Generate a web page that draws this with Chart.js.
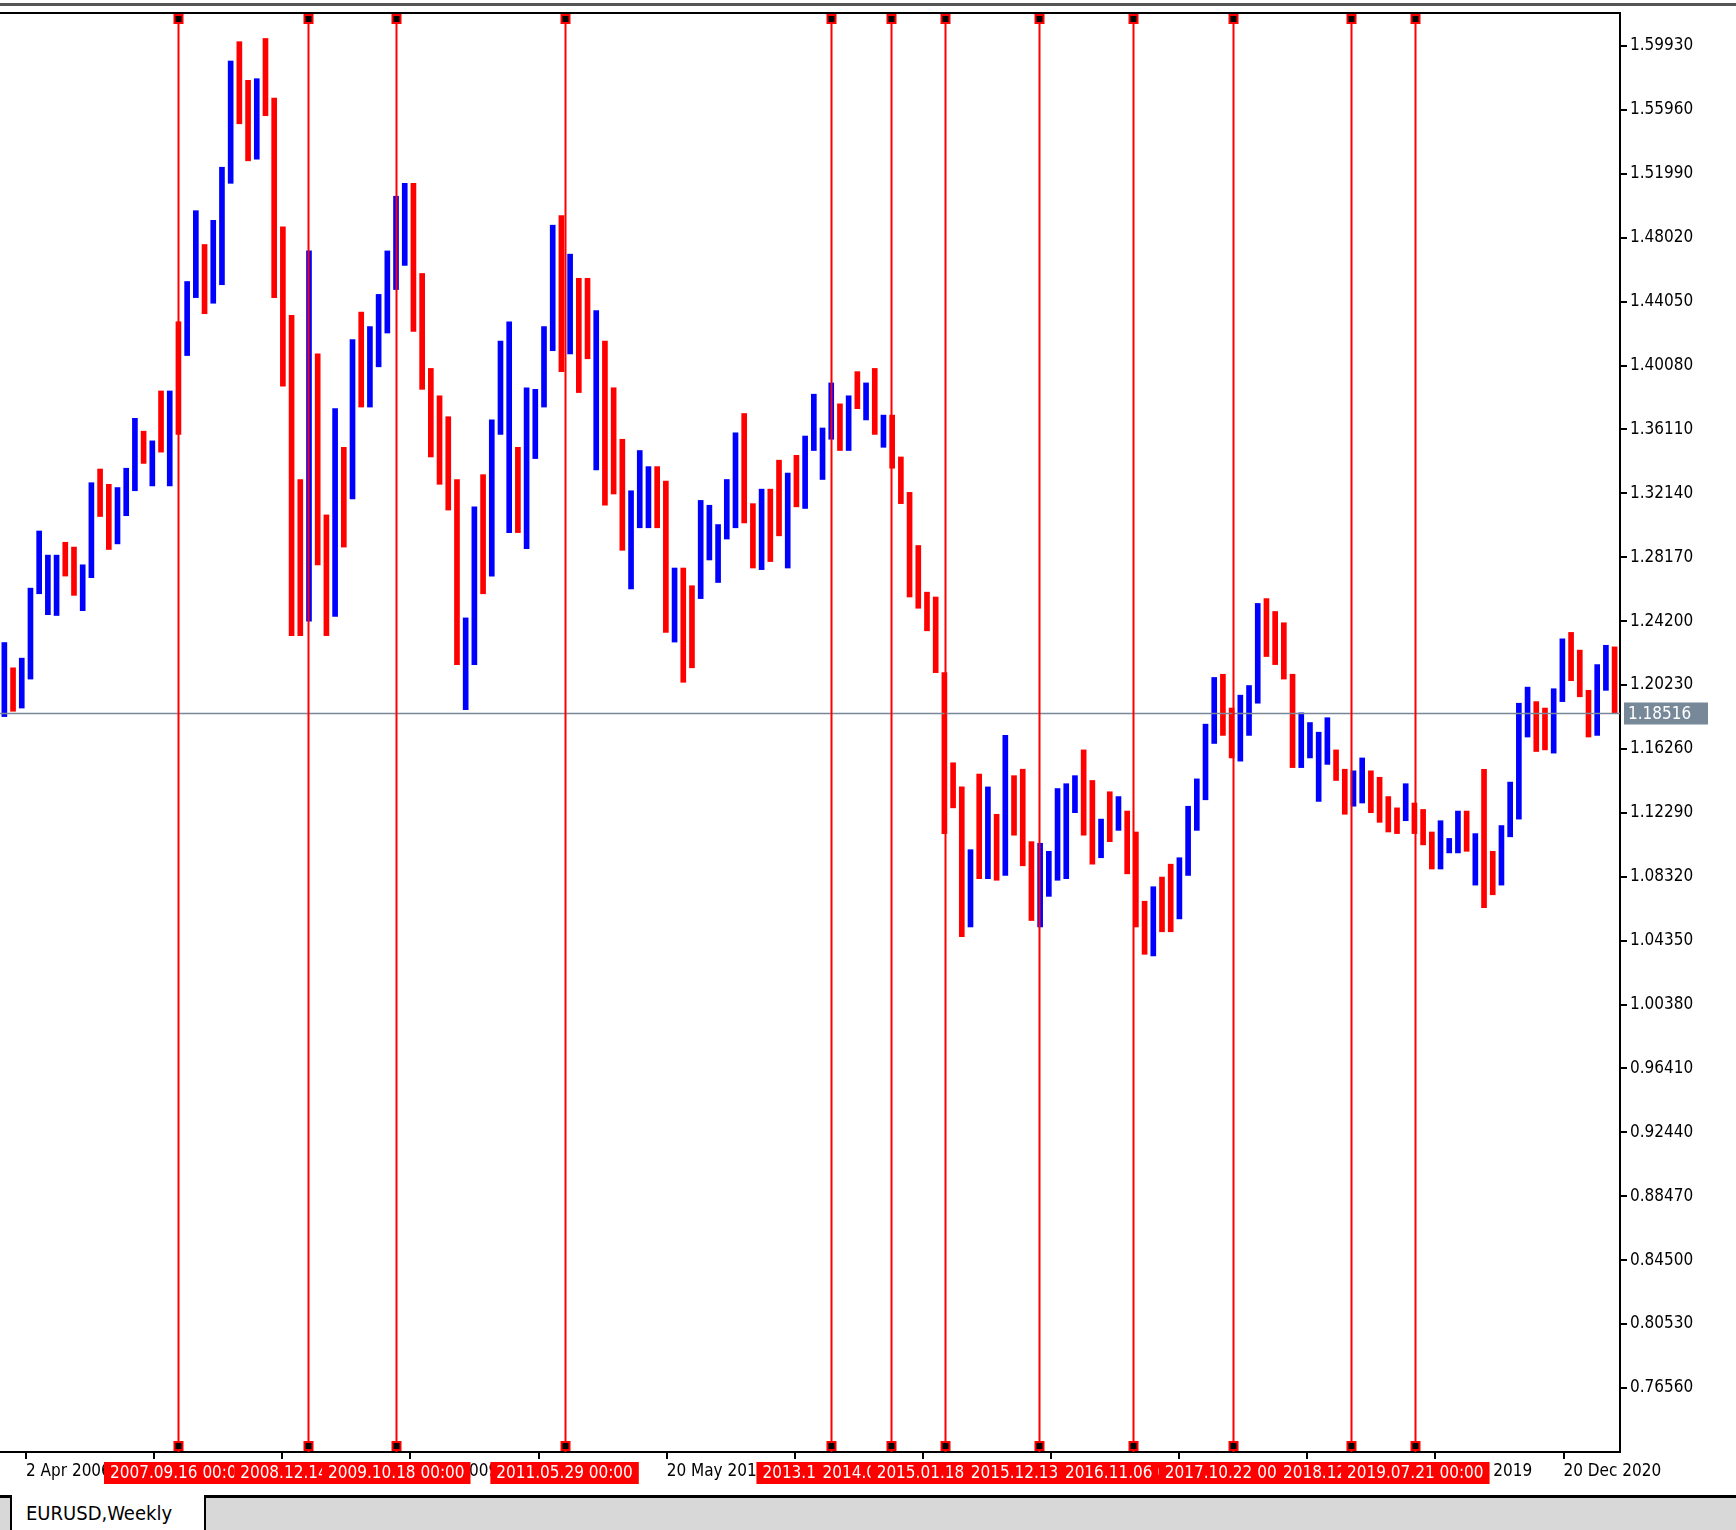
<!DOCTYPE html>
<html>
<head>
<meta charset="utf-8">
<script src="https://cdn.jsdelivr.net/npm/chart.js@4.4.0/dist/chart.umd.min.js"></script>
<style>
  body { margin: 0; background: #fff; width: 1736px; height: 1530px; overflow: hidden; }
  #wrap { position: absolute; left: 0; top: 0; width: 1736px; height: 1495px; }
  #tabs { position: absolute; left: 0; top: 1495px; width: 1736px; height: 35px; background: #d8d8d8; border-top: 3px solid #000; box-sizing: border-box; }
  #tab { position: absolute; left: 10px; top: -3px; width: 196px; height: 38px; background: #fff; border: 2px solid #000; border-top: none; box-sizing: border-box;
         font: 20px "DejaVu Sans Condensed", "DejaVu Sans", sans-serif; padding: 6px 0 0 14px; }
</style>
</head>
<body>
<div id="wrap"><canvas id="chart" width="1736" height="1495"></canvas></div>
<div id="tabs"><div id="tab">EURUSD,Weekly</div></div>
<script>
// monthly ranges, Jan 2006 .. Jun 2021
const highs = [
  1.2287,1.2130,1.2190,1.2625,1.2980,1.2830,1.2830,1.2910,1.2880,1.2770,1.3280,1.3365,
  1.3270,1.3250,1.3370,1.3680,1.3600,1.3540,1.3850,1.3850,1.4280,1.4530,1.4970,1.4760,
  1.4910,1.5240,1.5900,1.6020,1.5780,1.5790,1.6040,1.5670,1.4870,1.4320,1.3300,1.4720,
  1.4080,1.3080,1.3740,1.3500,1.4170,1.4340,1.4250,1.4450,1.4720,1.5060,1.5140,1.5140,
  1.4580,1.3990,1.3820,1.3690,1.3300,1.2440,1.3130,1.3330,1.3670,1.4160,1.4280,1.3500,
  1.3870,1.3860,1.4250,1.4880,1.4940,1.4700,1.4550,1.4550,1.4350,1.4160,1.3870,1.3550,
  1.3230,1.3480,1.3380,1.3380,1.3290,1.2750,1.2750,1.2640,1.3170,1.3140,1.3020,1.3300,
  1.3590,1.3710,1.3150,1.3240,1.3240,1.3420,1.3340,1.3450,1.3570,1.3830,1.3620,1.3900,
  1.3770,1.3820,1.3970,1.3900,1.3990,1.3700,1.3700,1.3440,1.3220,1.2890,1.2600,1.2570,
  1.2100,1.1540,1.1390,1.1000,1.1470,1.1390,1.1220,1.1710,1.1460,1.1500,1.1050,1.1040,
  1.0990,1.1380,1.1410,1.1460,1.1620,1.1430,1.1190,1.1360,1.1330,1.1240,1.1110,1.0680,
  1.0770,1.0830,1.0910,1.0950,1.1270,1.1440,1.1780,1.2070,1.2090,1.1880,1.1960,1.2020,
  1.2530,1.2560,1.2480,1.2410,1.2090,1.1850,1.1790,1.1730,1.1820,1.1620,1.1500,1.1490,
  1.1570,1.1490,1.1450,1.1330,1.1260,1.1410,1.1290,1.1250,1.1110,1.1180,1.1070,1.1240,
  1.1240,1.1100,1.1500,1.0990,1.1150,1.1420,1.1910,1.2010,1.1920,1.1880,1.2000,1.2310,
  1.2350,1.2240,1.1990,1.2150,1.2270,1.2260
];
const lows = [
  1.1827,1.1860,1.1880,1.2060,1.2590,1.2460,1.2455,1.2700,1.2580,1.2485,1.2690,1.3070,
  1.2865,1.2900,1.3075,1.3230,1.3400,1.3260,1.3470,1.3260,1.3580,1.4070,1.4430,1.4330,
  1.4395,1.4510,1.5140,1.5510,1.5280,1.5290,1.5560,1.4430,1.3880,1.2330,1.2330,1.2420,
  1.2770,1.2330,1.2450,1.2880,1.3180,1.3750,1.3750,1.4000,1.4210,1.4480,1.4630,1.4220,
  1.3860,1.3440,1.3270,1.3110,1.2150,1.1870,1.2150,1.2590,1.2700,1.3580,1.2970,1.2970,
  1.2870,1.3430,1.3750,1.4100,1.3970,1.4080,1.3840,1.4050,1.3360,1.3140,1.3210,1.2860,
  1.2620,1.3000,1.3000,1.3000,1.2350,1.2290,1.2040,1.2130,1.2560,1.2800,1.2660,1.2930,
  1.3000,1.3030,1.2750,1.2740,1.2790,1.2950,1.2750,1.3130,1.3120,1.3480,1.3300,1.3550,
  1.3480,1.3480,1.3740,1.3670,1.3580,1.3500,1.3370,1.3150,1.2570,1.2500,1.2360,1.2100,
  1.1100,1.1260,1.0460,1.0520,1.0820,1.0820,1.0810,1.0840,1.1090,1.0900,1.0560,1.0520,
  1.0710,1.0810,1.0820,1.1230,1.1090,1.0910,1.0950,1.1050,1.1120,1.0850,1.0520,1.0350,
  1.0340,1.0490,1.0490,1.0570,1.0840,1.1120,1.1310,1.1660,1.1710,1.1570,1.1550,1.1710,
  1.1910,1.2200,1.2150,1.2060,1.1510,1.1510,1.1570,1.1300,1.1530,1.1430,1.1220,1.1270,
  1.1290,1.1230,1.1170,1.1110,1.1100,1.1180,1.1100,1.1030,1.0880,1.0880,1.0980,1.0980,
  1.0990,1.0780,1.0640,1.0720,1.0780,1.1080,1.1190,1.1700,1.1610,1.1620,1.1600,1.1920,
  1.2050,1.1950,1.1700,1.1710,1.1990,1.1850
];
// u = up month (blue), d = down month (red)
const dirs = [
  "uduuuuudduud", "duuudududuud", "uuuddudddddu", "ddududuuuuud",
  "ddddduuduuud", "uuuududduddd", "uuuddudduuuu", "uddudduduuuu",
  "dudududddddd", "dddudududddu", "uuuuddududdd", "udduuuuuddu u".replace(" ", ""),
  "udddduuuuddu", "udddduddduuu", "dudduuuudduu", "ddduud"
].join("");

const priceTicks = [1.59930,1.55960,1.51990,1.48020,1.44050,1.40080,1.36110,1.32140,1.28170,1.24200,
                    1.20230,1.16260,1.12290,1.08320,1.04350,1.00380,0.96410,0.92440,0.88470,0.84500,0.80530,0.76560];
const dateTicks = [[2006,4,2],[2007,6,24],[2008,9,14],[2009,12,6],[2011,2,27],[2012,5,20],[2013,8,11],
                   [2014,11,2],[2016,1,24],[2017,4,16],[2018,7,8],[2019,9,29],[2020,12,20]];
const monthNames = ["Jan","Feb","Mar","Apr","May","Jun","Jul","Aug","Sep","Oct","Nov","Dec"];
const vlineDates = ["2007.09.16","2008.12.14","2009.10.18","2011.05.29","2013.12.15","2014.07.13",
                    "2015.01.18","2015.12.13","2016.11.06","2017.10.22","2018.12.09","2019.07.21"];
const lastPrice = 1.18516;

function toYear(y, m, d) {
  const start = Date.UTC(y, 0, 1), t = Date.UTC(y, m - 1, d);
  return y + (t - start) / (365.25 * 864e5);
}

const bars = highs.map((h, i) => ({ x: 2006 + (i + 0.5) / 12, y: [lows[i], h] }));
const colors = highs.map((h, i) => dirs[i] === "u" ? "#0000ff" : "#ff0000");
const FONT = '"DejaVu Sans Condensed", "DejaVu Sans", sans-serif';

const overlay = {
  id: "overlay",
  afterDraw(chart) {
    const { ctx, chartArea: a, scales: { x, y } } = chart;
    ctx.save();
    const py = Math.round(y.getPixelForValue(lastPrice)) + 0.5;
    ctx.strokeStyle = "#778899"; ctx.lineWidth = 1.5;
    ctx.beginPath(); ctx.moveTo(a.left, py); ctx.lineTo(a.right, py); ctx.stroke();
    ctx.fillStyle = "#778899";
    ctx.fillRect(a.right + 4, py - 11, 84, 22);
    ctx.fillStyle = "#fff"; ctx.font = "17px " + FONT; ctx.textBaseline = "middle"; ctx.textAlign = "left";
    ctx.fillText(lastPrice.toFixed(5), a.right + 8, py + 1);
    vlineDates.forEach(s => {
      const [yy, mm, dd] = s.split(".").map(Number);
      const px = Math.round(x.getPixelForValue(toYear(yy, mm, dd))) + 0.5;
      ctx.strokeStyle = "#ff0000"; ctx.lineWidth = 2;
      ctx.beginPath(); ctx.moveTo(px, a.top); ctx.lineTo(px, a.bottom); ctx.stroke();
      [a.top + 5, a.bottom - 6].forEach(cy => {
        ctx.fillStyle = "#ff0000"; ctx.fillRect(px - 5, cy - 5, 10, 10);
        ctx.fillStyle = "#000"; ctx.fillRect(px - 3, cy - 3, 6, 6);
      });
    });
    vlineDates.forEach(s => {
      const [yy, mm, dd] = s.split(".").map(Number);
      const px = x.getPixelForValue(toYear(yy, mm, dd));
      const txt = s + " 00:00";
      const w = ctx.measureText(txt).width + 12;
      ctx.fillStyle = "#ff0000"; ctx.fillRect(px - w / 2, a.bottom + 10, w, 22);
      ctx.fillStyle = "#fff"; ctx.textAlign = "left";
      ctx.fillText(txt, px - w / 2 + 6, a.bottom + 22);
    });
    ctx.fillStyle = "#555"; ctx.fillRect(0, 3, chart.width, 3);
    ctx.fillStyle = "#000"; ctx.fillRect(0, a.top - 2, a.right + 1, 2);
    ctx.restore();
  }
};

new Chart(document.getElementById("chart"), {
  type: "bar",
  data: { datasets: [{ data: bars, backgroundColor: colors, barThickness: 5, grouped: false }] },
  options: {
    responsive: false,
    animation: false,
    layout: { padding: { top: 14, left: 0, right: 0 } },
    plugins: { legend: { display: false }, tooltip: { enabled: false } },
    scales: {
      x: {
        type: "linear", min: 2006.0, max: 2021.51, offset: false,
        afterBuildTicks: s => { s.ticks = dateTicks.map(d => ({ value: toYear(d[0], d[1], d[2]) })); },
        afterFit: s => { s.height = 43; },
        grid: { drawOnChartArea: false, offset: false, color: "#000", tickLength: 7, lineWidth: 2 },
        border: { color: "#000", width: 2 },
        ticks: {
          align: "start", color: "#000", font: { family: FONT, size: 17 }, padding: 2, maxRotation: 0, autoSkip: false,
          callback: (v, i) => { const d = dateTicks[i]; return d[2] + " " + monthNames[d[1] - 1] + " " + d[0]; }
        }
      },
      y: {
        position: "right", min: 0.7258, max: 1.6192,
        afterBuildTicks: s => { s.ticks = priceTicks.map(v => ({ value: v })); },
        afterFit: s => { s.width = 116; },
        grid: { drawOnChartArea: false, color: "#000", tickLength: 7, lineWidth: 2 },
        border: { color: "#000", width: 2 },
        ticks: { color: "#000", font: { family: FONT, size: 17 }, padding: 3, callback: v => v.toFixed(5) }
      }
    }
  },
  plugins: [overlay]
});
</script>
</body>
</html>
